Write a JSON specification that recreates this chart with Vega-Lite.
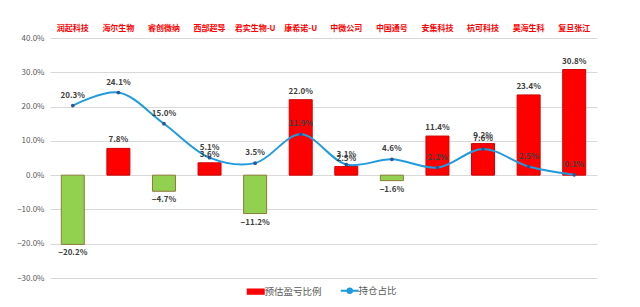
{
  "$schema": "https://vega.github.io/schema/vega-lite/v6.json",
  "width": 547,
  "height": 240,
  "autosize": {"type": "none"},
  "padding": {"left": 50, "top": 38, "right": 43, "bottom": 29},
  "background": "white",
  "config": {"font": "Noto Sans CJK SC", "view": {"stroke": null}, "legend": {"layout": {"bottom": {"anchor": "middle"}}}},
  "data": {"values": [
    {"c": "润起科技", "s": "预估盈亏比例", "v": -0.202},
    {"c": "海尔生物", "s": "预估盈亏比例", "v": 0.078},
    {"c": "睿创微纳", "s": "预估盈亏比例", "v": -0.047},
    {"c": "西部超导", "s": "预估盈亏比例", "v": 0.036},
    {"c": "君实生物-U", "s": "预估盈亏比例", "v": -0.112},
    {"c": "康希诺-U", "s": "预估盈亏比例", "v": 0.22},
    {"c": "中微公司", "s": "预估盈亏比例", "v": 0.025},
    {"c": "中国通号", "s": "预估盈亏比例", "v": -0.016},
    {"c": "安集科技", "s": "预估盈亏比例", "v": 0.114},
    {"c": "杭可科技", "s": "预估盈亏比例", "v": 0.092},
    {"c": "昊海生科", "s": "预估盈亏比例", "v": 0.234},
    {"c": "复旦张江", "s": "预估盈亏比例", "v": 0.308},
    {"c": "润起科技", "s": "持仓占比", "v": 0.203},
    {"c": "海尔生物", "s": "持仓占比", "v": 0.241},
    {"c": "睿创微纳", "s": "持仓占比", "v": 0.15},
    {"c": "西部超导", "s": "持仓占比", "v": 0.051},
    {"c": "君实生物-U", "s": "持仓占比", "v": 0.035},
    {"c": "康希诺-U", "s": "持仓占比", "v": 0.119},
    {"c": "中微公司", "s": "持仓占比", "v": 0.031},
    {"c": "中国通号", "s": "持仓占比", "v": 0.046},
    {"c": "安集科技", "s": "持仓占比", "v": 0.022},
    {"c": "杭可科技", "s": "持仓占比", "v": 0.076},
    {"c": "昊海生科", "s": "持仓占比", "v": 0.025},
    {"c": "复旦张江", "s": "持仓占比", "v": 0.001}
  ]},
  "encoding": {
    "x": {"field": "c", "type": "nominal", "sort": null,
      "scale": {"paddingInner": 0, "paddingOuter": 0},
      "axis": {"orient": "top", "title": null, "labelAngle": 0, "labelColor": "#FF0000", "labelFontWeight": "bold", "labelFontSize": 8, "ticks": false, "domain": false, "labelPadding": 6}},
    "y": {"field": "v", "type": "quantitative", "scale": {"domain": [-0.3, 0.4], "nice": false, "zero": false},
      "axis": {"title": null, "format": ".1%", "tickCount": 8, "labelOverlap": false, "grid": true, "gridColor": "#D9D9D9", "gridOpacity": 1, "domain": false, "ticks": false, "labelColor": "#595959", "labelFontSize": 8, "labelPadding": 6}}
  },
  "layer": [
    {
      "transform": [{"filter": "datum.s === '预估盈亏比例'"}],
      "mark": {"type": "bar", "size": 23, "strokeWidth": 1},
      "encoding": {
        "color": {"condition": {"test": "datum.v < 0", "value": "#92D050"}, "field": "s", "type": "nominal",
          "scale": {"domain": ["预估盈亏比例", "持仓占比"], "range": ["#FF0000", "#1F9BDE"]},
          "legend": {"title": null, "orient": "bottom", "direction": "horizontal", "offset": 8, "labelFontSize": 9.5, "labelColor": "#595959", "symbolSize": 324, "columnPadding": 14, "labelOffset": 4,
            "encode": {"symbols": {"update": {
              "shape": {"signal": "datum.value === '持仓占比' ? 'M-1,0H1M-0.25,0A0.25,0.25,0,1,0,0.25,0A0.25,0.25,0,1,0,-0.25,0Z' : 'M-1,-0.35H1V0.35H-1Z'"},
              "fill": {"signal": "datum.value === '持仓占比' ? '#2F5597' : '#FF0000'"},
              "stroke": {"signal": "datum.value === '持仓占比' ? '#1F9BDE' : '#FF0000'"},
              "strokeWidth": {"signal": "datum.value === '持仓占比' ? 2 : 0"},
              "opacity": {"value": 1}
            }}}}},
        "stroke": {"condition": {"test": "datum.v < 0", "value": "#8C7B3B"}, "value": "#D00000"}
      }
    },
    {
      "transform": [{"filter": "datum.s === '持仓占比'"}],
      "mark": {"type": "line", "interpolate": "catmull-rom", "strokeWidth": 2},
      "encoding": {
        "color": {"field": "s", "type": "nominal",
          "legend": {"title": null, "orient": "bottom", "direction": "horizontal", "offset": 8, "labelFontSize": 9.5, "labelColor": "#595959", "symbolSize": 324, "columnPadding": 14, "labelOffset": 4,
            "encode": {"symbols": {"update": {
              "shape": {"signal": "datum.value === '持仓占比' ? 'M-1,0H1M-0.25,0A0.25,0.25,0,1,0,0.25,0A0.25,0.25,0,1,0,-0.25,0Z' : 'M-1,-0.35H1V0.35H-1Z'"},
              "fill": {"signal": "datum.value === '持仓占比' ? '#2F5597' : '#FF0000'"},
              "stroke": {"signal": "datum.value === '持仓占比' ? '#1F9BDE' : '#FF0000'"},
              "strokeWidth": {"signal": "datum.value === '持仓占比' ? 2 : 0"},
              "opacity": {"value": 1}
            }}}}}
      }
    },
    {
      "transform": [{"filter": "datum.s === '持仓占比'"}],
      "mark": {"type": "point", "filled": true, "size": 14, "color": "#2F5597", "opacity": 1}
    },
    {
      "transform": [{"filter": "datum.s === '预估盈亏比例' && datum.v >= 0"}],
      "mark": {"type": "text", "baseline": "bottom", "dy": -4, "fontSize": 8, "fontWeight": "bold", "color": "#404040"},
      "encoding": {"text": {"field": "v", "format": ".1%"}}
    },
    {
      "transform": [{"filter": "datum.s === '预估盈亏比例' && datum.v < 0"}],
      "mark": {"type": "text", "baseline": "top", "dy": 5, "fontSize": 8, "fontWeight": "bold", "color": "#404040"},
      "encoding": {"text": {"field": "v", "format": ".1%"}}
    },
    {
      "transform": [{"filter": "datum.s === '持仓占比'"}],
      "mark": {"type": "text", "baseline": "bottom", "dy": -6, "fontSize": 8, "fontWeight": "bold", "color": "#404040"},
      "encoding": {"text": {"field": "v", "format": ".1%"}}
    }
  ]
}
